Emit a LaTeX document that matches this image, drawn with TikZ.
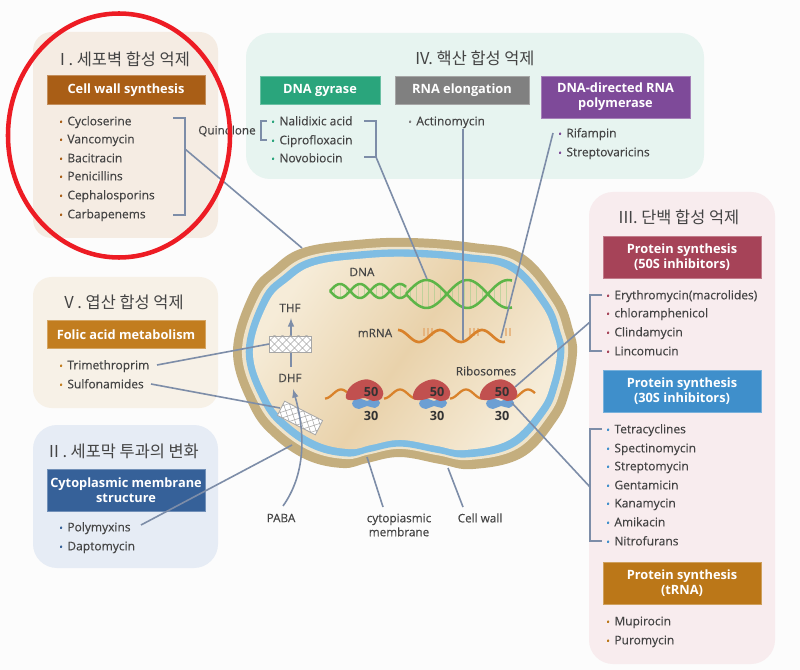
\documentclass[tikz,border=0pt]{standalone}
\usepackage{fontspec}
\usepackage{graphicx}
\setmainfont{Open Sans}
\newfontfamily\krfont{Noto Sans CJK KR}
\newfontfamily\drugfont{Open Sans}[FakeBold=.35]

\definecolor{ink}{HTML}{444444}
\definecolor{linkblue}{HTML}{7D8DA8}
\definecolor{panelI}{HTML}{F5ECE3}
\definecolor{panelII}{HTML}{E6ECF5}
\definecolor{panelIII}{HTML}{F8ECEE}
\definecolor{panelIV}{HTML}{E7F4F0}
\definecolor{panelV}{HTML}{F7F1E7}
\definecolor{headwall}{HTML}{A95E16}
\definecolor{headgyr}{HTML}{2AA57C}
\definecolor{headrna}{HTML}{808080}
\definecolor{headpol}{HTML}{7E4A99}
\definecolor{headfifty}{HTML}{A64358}
\definecolor{headthirty}{HTML}{3F8FCB}
\definecolor{headtrna}{HTML}{BB7718}
\definecolor{headfolic}{HTML}{C27D1F}
\definecolor{headmemb}{HTML}{366199}
\definecolor{celltan}{HTML}{C4AE7E}
\definecolor{cellband}{HTML}{EFE4CB}
\definecolor{cellblue}{HTML}{7FBDE3}
\definecolor{cellcream}{HTML}{F6ECD8}
\definecolor{celldark}{HTML}{E9D2AB}
\definecolor{dnagreen}{HTML}{5DB548}
\definecolor{rnaorange}{HTML}{D9822B}
\definecolor{riboRed}{HTML}{C1504F}
\definecolor{riboBlue}{HTML}{6C9FD3}
\definecolor{circlered}{HTML}{ED1C24}

\tikzset{
  panel/.style={rounded corners=14pt,draw=none},
  title/.style={font=\krfont\fontsize{12.3}{14}\selectfont,text=ink,inner sep=0pt},
  head/.style={draw=#1!70!white,line width=.5pt,fill=#1,text=white,inner sep=0pt,align=center,
    font=\bfseries\fontsize{9.6}{11.5}\selectfont},
  drug/.style={anchor=west,inner sep=0pt,text=ink,text height=7pt,text depth=2pt,yshift=-.75pt,
    font=\drugfont\fontsize{9}{10}\selectfont},
  tag/.style={inner sep=0pt,text=ink,align=center,font=\drugfont\fontsize{8.8}{10.5}\selectfont},
  link/.style={draw=linkblue,line width=1.2pt},
  hatchbox/.style={draw=gray!70,fill=white,line width=.6pt,inner sep=0pt,minimum height=12pt,
    path picture={\foreach \d in {-40,-32,...,40}{
      \draw[gray!70,line width=.4pt] (path picture bounding box.center) ++(\d-12,-12) -- ++(24,24);
      \draw[gray!70,line width=.4pt] (path picture bounding box.center) ++(\d-12,12) -- ++(24,-24);}}},
  rung/.style={line width=.5pt,opacity=.45},
  tick/.style={rnaorange!70,line width=.9pt,opacity=.7},
}
\newcommand{\bul}[1]{\textcolor{#1}{\scalebox{.8}{\textbullet}}\hspace{3.4pt}}
\newcommand{\cellpath}{plot[smooth cycle,tension=.65] coordinates {(233,352) (250,293) (273,267) (303,248)
  (357,240) (410,238) (473,243) (523,254) (560,297) (573,330) (577,353) (570,390) (557,420) (523,457)
  (473,469) (440,464) (400,457) (367,463) (343,468) (307,460) (273,437) (250,407)}}
% one short stretch of the orange strand
\newcommand{\rnawave}[4]{\draw[rnaorange,line width=1.7pt] plot[domain=#1:#2,samples=30]
  (\x,{#4+4.5*cos(360/#3*(\x-#1))});}

\begin{document}
\begin{tikzpicture}[x=.75pt,y=-.75pt]
\useasboundingbox (0,0) rectangle (800,670);
\fill[black!1] (0,0) rectangle (800,670);

% panels
\draw[panel,fill=panelI] (33,32) rectangle (218,238);
\draw[panel,fill=panelIV,rounded corners=18pt] (246,33) rectangle (704,179);
\draw[panel,fill=panelIII,rounded corners=18pt] (589,192) rectangle (775,664);
\draw[panel,fill=panelV] (33,277) rectangle (218,408);
\draw[panel,fill=panelII,rounded corners=18pt] (33,425) rectangle (218,568);

% titles
\node[title] (titleI) at (125,59) {I . 세포벽 합성 억제};
\node[title] (titleIV) at (475,58) {IV. 핵산 합성 억제};
\node[title] (titleIII) at (679,217) {III. 단백 합성 억제};
\node[title] (titleV) at (124,302) {V . 엽산 합성 억제};
\node[title] (titleII) at (124,451) {II . 세포막 투과의 변화};

% headers
\node[head=headwall,minimum width=118.5pt,minimum height=21.5pt] (wall) at (126,90) {Cell wall synthesis};
\node[head=headgyr,minimum width=90pt,minimum height=21pt] (gyrase) at (320,90) {DNA gyrase};
\node[head=headrna,minimum width=100.5pt,minimum height=21pt] (rnael) at (462,90) {RNA elongation};
\node[head=headpol,minimum width=111.5pt,minimum height=31.5pt] (rnapol) at (615.5,97) {DNA-directed RNA\\polymerase};
\node[head=headfifty,minimum width=118.5pt,minimum height=31.5pt] (fifty) at (682,257) {Protein synthesis\\(50S inhibitors)};
\node[head=headthirty,minimum width=118.5pt,minimum height=31.5pt] (thirty) at (682,391) {Protein synthesis\\(30S inhibitors)};
\node[head=headtrna,minimum width=118.5pt,minimum height=31.5pt] (trna) at (682,583) {Protein synthesis\\(tRNA)};
\node[head=headfolic,minimum width=118.5pt,minimum height=21.5pt] (folic) at (126,334.5) {Folic acid metabolism};
\node[head=headmemb,minimum width=118.5pt,minimum height=31.5pt] (memb) at (126,490) {Cytoplasmic membrane\\structure};

% drug lists
\foreach \nm/\yy/\txt in {cyclo/121/Cycloserine,vanco/139/Vancomycin,baci/158/Bacitracin,
    peni/176/Penicillins,cepha/195/Cephalosporins,carba/214/Carbapenems}
  \node[drug] (\nm) at (59,\yy) {\bul{headwall}\txt};
\foreach \nm/\yy/\txt in {nali/121/Nalidixic acid,cipro/140/Ciprofloxacin,novo/158/Novobiocin}
  \node[drug] (\nm) at (271,\yy) {\bul{headgyr}\txt};
\node[drug] (actino) at (408,121) {\bul{headrna}Actinomycin};
\foreach \nm/\yy/\txt in {rifa/133/Rifampin,strepv/152/Streptovaricins}
  \node[drug] (\nm) at (558,\yy) {\bul{headpol}\txt};
\foreach \nm/\yy/\txt in {ery/295/Erythromycin(macrolides),chlor/313/chloramphenicol,
    clin/332/Clindamycin,linco/351/Lincomucin}
  \node[drug] (\nm) at (606,\yy) {\bul{headfifty}\txt};
\foreach \nm/\yy/\txt in {tetra/429/Tetracyclines,spec/448/Spectinomycin,strep/466/Streptomycin,
    genta/485/Gentamicin,kana/503/Kanamycin,ami/522/Amikacin,nitro/541/Nitrofurans}
  \node[drug] (\nm) at (606,\yy) {\bul{headthirty}\txt};
\foreach \nm/\yy/\txt in {mupi/621/Mupirocin,puro/640/Puromycin}
  \node[drug] (\nm) at (606,\yy) {\bul{headtrna}\txt};
\foreach \nm/\yy/\txt in {trim/365/Trimethroprim,sulf/384/Sulfonamides}
  \node[drug] (\nm) at (59,\yy) {\bul{headfolic}\txt};
\foreach \nm/\yy/\txt in {poly/527/Polymyxins,dapto/546/Daptomycin}
  \node[drug] (\nm) at (59,\yy) {\bul{headmemb}\txt};
\node[tag] (quino) at (227,131) {Quinolone};

% cell
\fill[celltan] \cellpath;
\begin{scope}[shift={(405,353)},xscale=.948,yscale=.922,shift={(-405,-353)}]
  \fill[cellband] \cellpath;
\end{scope}
\begin{scope}[shift={(405,353)},xscale=.926,yscale=.9,shift={(-405,-353)}]
  \fill[cellblue] \cellpath;
\end{scope}
\begin{scope}[shift={(405,353)},xscale=.884,yscale=.836,shift={(-405,-353)}]
  \shade[left color=cellcream,right color=cellcream,middle color=celldark,shading angle=55] \cellpath;
\end{scope}

% DNA
\foreach \xx in {334,340,...,406}
  \draw[dnagreen!70,rung] (\xx,{291-7*abs(sin(9*(\xx-330)))}) -- (\xx,{291+7*abs(sin(9*(\xx-330)))});
\foreach \xx in {410,416,...,508}
  \draw[dnagreen!70,rung] (\xx,{294-13*abs(sin(4.4*(\xx-406)))}) -- (\xx,{294+13*abs(sin(4.4*(\xx-406)))});
\foreach \sgn in {1,-1}{
  \draw[dnagreen,line width=1.9pt] plot[domain=330:406,samples=50] (\x,{291+\sgn*7*sin(9*(\x-330))});
  \draw[dnagreen,line width=1.9pt] plot[domain=406:512,samples=50] (\x,{294+\sgn*14*sin(4.4*(\x-406))});
}

% mRNA and ribosome strand
\foreach \xx in {424,428,432,470,474,478,506,510}
  \draw[tick] (\xx,328) -- (\xx,336);
\draw[rnaorange,line width=2pt] plot[domain=398:505,samples=60] (\x,{336-6*cos(8.57*(\x-440))});
\rnawave{325}{347}{32}{394}
\rnawave{384}{416}{32}{394}
\rnawave{450}{482}{32}{394}
\rnawave{512}{535}{32}{394}

% ribosomes
\foreach \rx/\tx in {364/371,431/437,498/502}{
  \begin{scope}[shift={(\rx,392)}]
    \fill[riboBlue] plot[smooth cycle,tension=.7] coordinates {(-11,9) (-5,6) (3,9) (11,6) (16,11) (11,16) (3,14) (-5,17) (-11,14)};
    \fill[riboRed] plot[smooth cycle,tension=.7] coordinates {(-18,6) (-14,-5) (-2,-12) (9,-11) (18,-3) (18,6) (9,9) (1,6) (-10,8)};
  \end{scope}
  \node[tag,font=\bfseries\fontsize{9.5}{11}\selectfont,text=black!80] (big\rx) at (\tx,392) {50};
  \node[tag,font=\bfseries\fontsize{9.5}{11}\selectfont,text=black!80] (small\rx) at (\tx,416) {30};
}

% cell labels
\node[tag] (dna) at (362,272) {DNA};
\node[tag] (mrna) at (375,333) {mRNA};
\node[tag] (ribo) at (486,371) {Ribosomes};
\node[tag] (thf) at (290,308) {THF};
\node[tag] (dhf) at (290,378) {DHF};
\node[tag] (paba) at (281,518) {PABA};
\node[tag] (cytomem) at (399,525) {cytopiasmic\\membrane};
\node[tag] (wallnm) at (480,518) {Cell wall};
\coordinate (thftip) at (291,318);
\coordinate (dhfbase) at (291,367);
\coordinate (dhftip) at (293,389);

% pathway arrows and enzyme boxes
\draw[link,-latex] (dhfbase) -- (thftip);
\node[hatchbox,minimum width=31.5pt] (tmpbox) at (290.5,344) {};
\node[hatchbox,minimum width=32pt,rotate=-27] (sulbox) at (300,418) {};
\coordinate (pabafoot) at (283,506);
\draw[link,-latex] (pabafoot) .. controls (305,475) and (306,435) .. (dhftip);

% connectors
\coordinate (brIa) at (173,118); \coordinate (brIb) at (185,118);
\coordinate (brIc) at (185,215); \coordinate (brId) at (173,215);
\coordinate (brIm) at (185,149); \coordinate (wallhit) at (302,248);
\draw[link] (brIa) -- (brIb) -- (brIc) -- (brId);
\draw[link] (brIm) -- (wallhit);
\coordinate (qa) at (267,121); \coordinate (qb) at (261,121);
\coordinate (qc) at (261,140); \coordinate (qd) at (267,140);
\draw[link] (qa) -- (qb) -- (qc) -- (qd);
\coordinate (gyra) at (364,121); \coordinate (gyrb) at (376,121);
\coordinate (gyrc) at (376,157); \coordinate (gyrd) at (364,157);
\coordinate (dnahit) at (427,279);
\draw[link] (gyra) -- (gyrb) -- (gyrc) -- (gyrd);
\draw[link] (gyrc) -- (dnahit);
\coordinate (actfoot) at (463,129); \coordinate (mrnahit) at (463,340);
\draw[link] (actfoot) -- (mrnahit);
\coordinate (rifoot) at (553,133); \coordinate (rnahit) at (501,338);
\draw[link] (rifoot) -- (rnahit);
\coordinate (fa) at (602,295); \coordinate (fb) at (590,295);
\coordinate (fc) at (590,351); \coordinate (fd) at (602,351);
\coordinate (fm) at (590,322); \coordinate (bighit) at (515,387);
\draw[link] (fa) -- (fb) -- (fc) -- (fd);
\draw[link] (fm) -- (bighit);
\coordinate (ta) at (602,429); \coordinate (tb) at (590,429);
\coordinate (tc) at (590,541); \coordinate (td) at (602,541);
\coordinate (tm) at (590,487); \coordinate (smallhit) at (512,403);
\draw[link] (ta) -- (tb) -- (tc) -- (td);
\draw[link] (tm) -- (smallhit);
\coordinate (trimfoot) at (157,365);
\draw[link] (trimfoot) -- (tmpbox.west);
\coordinate (sulfoot) at (151,384); \coordinate (sulhit) at (280,408);
\draw[link] (sulfoot) -- (sulhit);
\coordinate (polyfoot) at (141,525); \coordinate (membhit) at (292,445);
\draw[link] (polyfoot) -- (membhit);
\coordinate (cyfoot) at (383,507); \coordinate (cyhit) at (367,457);
\draw[link] (cyfoot) -- (cyhit);
\coordinate (wfoot) at (463,507); \coordinate (whit) at (448,468);
\draw[link] (wfoot) -- (whit);

% highlight
\draw[circlered,line width=3.4pt] (119,135.5) ellipse (111 and 122);
\end{tikzpicture}
\end{document}
